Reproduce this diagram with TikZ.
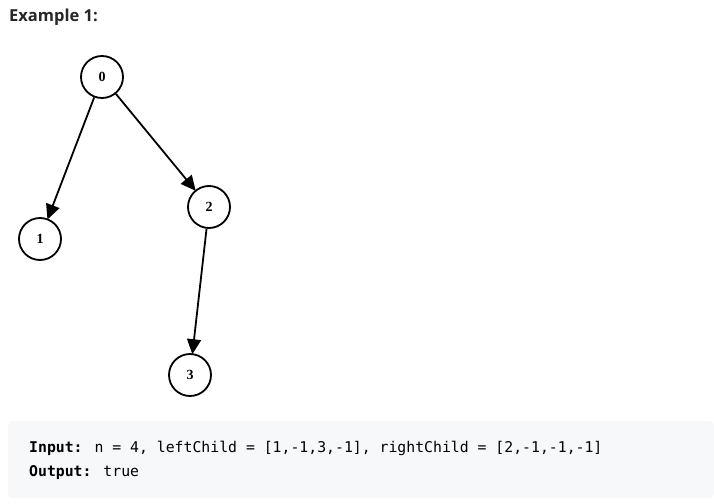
\documentclass[tikz,border=0pt]{standalone}
\usepackage{fontspec}
\setmainfont{Liberation Serif}
\newfontfamily\titlefont{Open Sans}
\newfontfamily\codefont{DejaVu Sans Mono}
\usetikzlibrary{arrows.meta}
\definecolor{codebg}{HTML}{F7F8FA}
\definecolor{titlecol}{HTML}{262626}
\begin{document}
\begin{tikzpicture}[x=1pt,y=-1pt,
  treenode/.style={circle,draw,line width=1.8pt,minimum size=42pt,inner sep=0pt,font=\fontsize{14}{14}\selectfont\bfseries},
  edge/.style={line width=1.8pt,-{Triangle[length=15pt,width=14pt]},shorten >=-1pt},
  codetext/.style={anchor=west,inner sep=0pt,font=\codefont\fontsize{14.8}{15}\selectfont}]
\useasboundingbox (0,0) rectangle (714,503);
\fill[white] (0,0) rectangle (714,503);
\node[anchor=west,inner sep=0pt,text=titlecol,font=\titlefont\fontsize{16.5}{17}\selectfont\bfseries] (title) at (9,17) {Example 1:};
\node[treenode] (n0) at (102,77) {0};
\node[treenode] (n1) at (40,239) {1};
\node[treenode] (n2) at (209,207) {2};
\node[treenode] (n3) at (190,375) {3};
\draw[edge] (n0) -- (n1);
\draw[edge] (n0) -- (n2);
\draw[edge] (n2) -- (n3);
\fill[codebg,rounded corners=4pt] (8,421) rectangle (714,498);
\node[codetext] (inp) at (29,448) {\textbf{Input:} n = 4, leftChild = [1,-1,3,-1], rightChild = [2,-1,-1,-1]};
\node[codetext] (out) at (29,473) {\textbf{Output:} true};
\end{tikzpicture}
\end{document}
